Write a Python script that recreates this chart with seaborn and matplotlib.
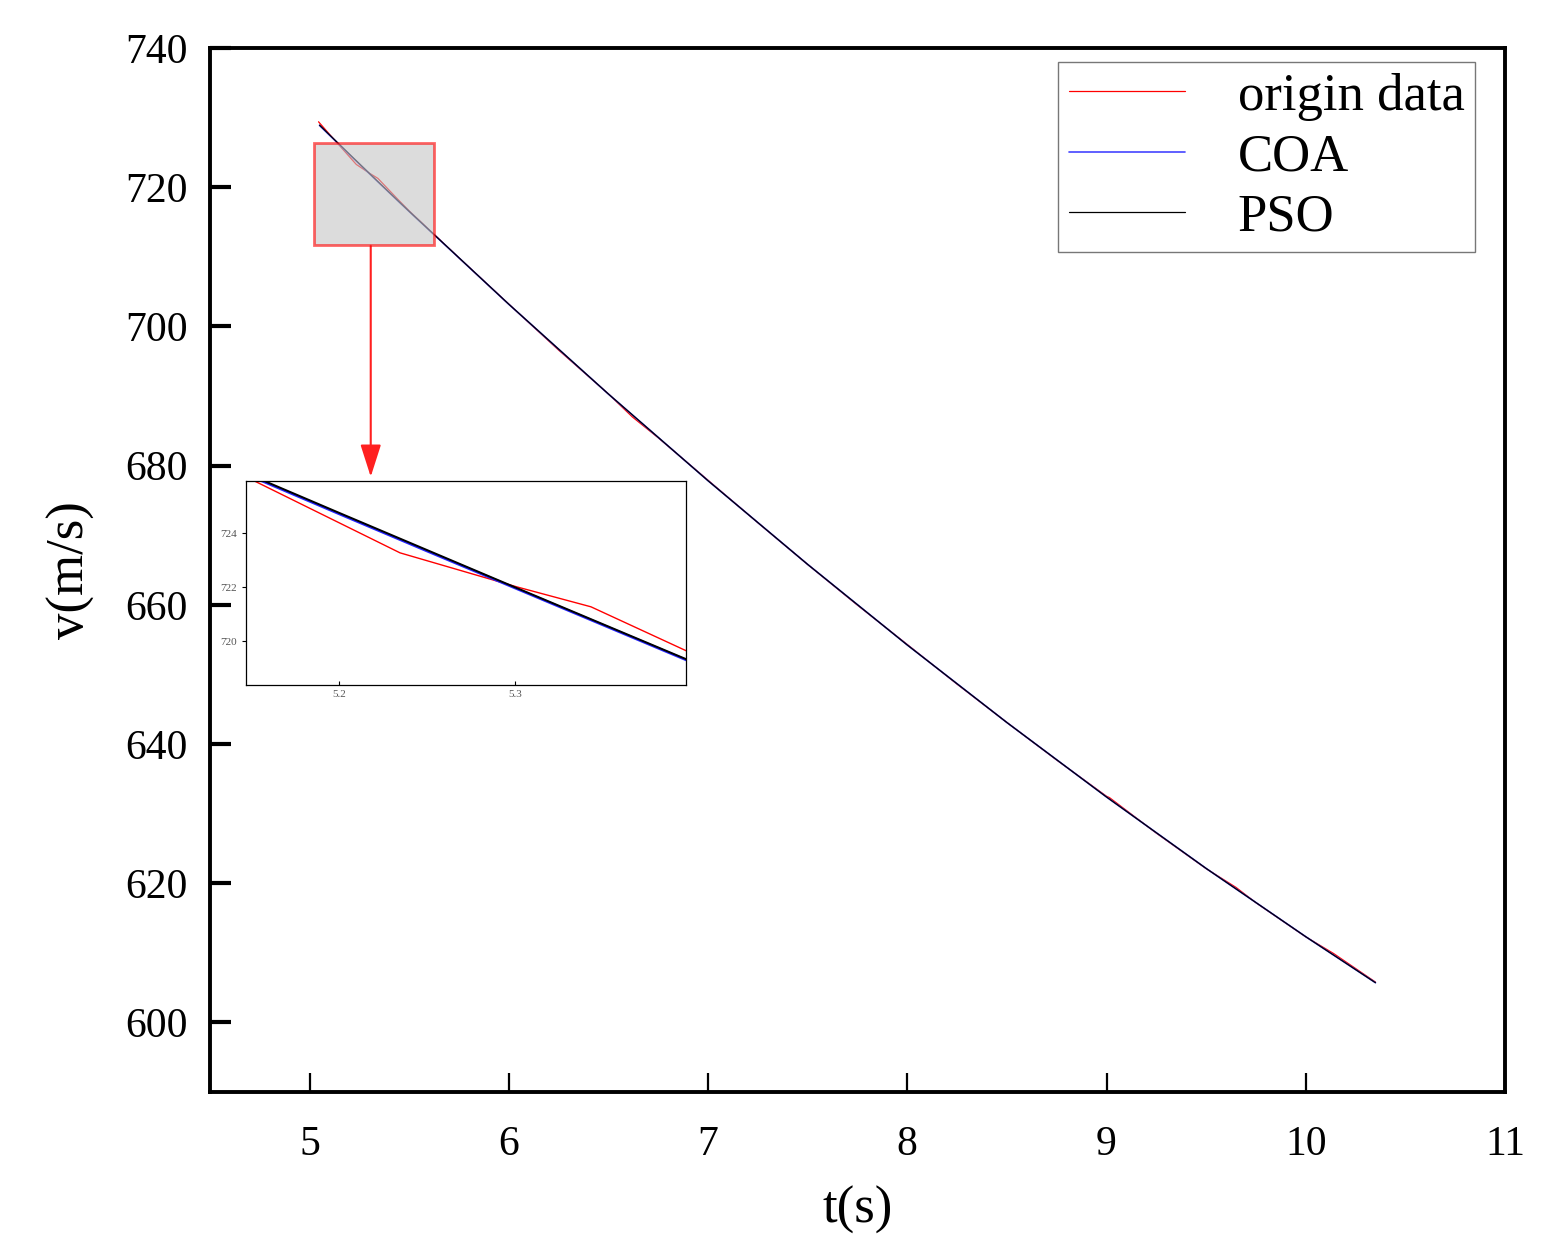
import numpy as np
import pandas as pd
import seaborn as sns
import matplotlib.pyplot as plt
from matplotlib.patches import Rectangle

t_origin = [5.045, 5.100, 5.2345, 5.3008, 5.343, 5.44, 5.5, 5.75, 6.0, 6.25, 6.5, 6.62, 6.75,
            7.0, 7.25, 7.5, 7.75, 8.0, 8.25, 8.5, 8.75, 9.0, 9.015, 9.25, 9.5, 9.65, 9.75,
            10.0, 10.14, 10.35]
v_origin = [729.40, 727.60, 723.27, 722.01, 721.27, 718.35, 716.60, 709.85, 703.20, 696.60,
            690.30, 687.00, 684.00, 677.90, 671.80, 665.80, 659.95, 654.30, 648.60, 643.10,
            637.70, 632.50, 632.30, 627.20, 622.10, 619.40, 617.20, 612.30, 609.90, 605.80]

# fitted curves
t_fit = [5.05, 5.10, 5.15, 5.20, 5.25, 5.30, 5.35, 5.40, 5.5, 6.0, 6.5, 7.0, 7.5, 8.0,
         8.5, 9.0, 9.5, 10.0, 10.35]
v_coa = [728.88, 727.48, 726.10, 724.71, 723.33, 721.96, 720.59, 719.22, 716.51, 703.18,
         690.28, 677.83, 665.81, 654.23, 643.09, 632.39, 622.13, 612.32, 605.71]
v_pso = [728.92, 727.52, 726.14, 724.75, 723.37, 721.99, 720.62, 719.25, 716.53, 703.19,
         690.29, 677.83, 665.81, 654.23, 643.09, 632.39, 622.13, 612.32, 605.71]

sns.set_style("ticks")
plt.rcParams['font.family'] = ['Liberation Serif', 'DejaVu Serif']
plt.rcParams['text.color'] = 'black'
plt.rcParams['axes.labelcolor'] = 'black'
plt.rcParams['xtick.color'] = 'black'
plt.rcParams['ytick.color'] = 'black'

fig = plt.figure(figsize=(15.68, 12.6), dpi=100)
ax = fig.add_axes([0.1339, 0.1333, 0.8259, 0.8286])

sns.lineplot(x=t_origin, y=v_origin, color='red', lw=0.9, ax=ax, label='origin data')
sns.lineplot(x=t_fit, y=v_coa, color='#4444ff', lw=1.2, ax=ax, label='COA')
sns.lineplot(x=t_fit, y=v_pso, color='black', lw=0.9, ax=ax, label='PSO')

ax.set_xlim(4.5, 11)
ax.set_ylim(590, 740)
ax.set_xticks(range(5, 12))
ax.set_yticks(range(600, 741, 20))
for s in ax.spines.values():
    s.set_linewidth(2.8)
    s.set_color('black')
ax.tick_params(axis='both', direction='in', labelsize=30)
ax.tick_params(axis='x', length=14, width=1.6, pad=24)
ax.tick_params(axis='y', length=15, width=3.0, pad=16)
ax.set_xlabel('t(s)', fontsize=38, labelpad=16)
ax.set_ylabel('v(m/s)', fontsize=38, labelpad=22)

leg = ax.legend(loc='upper right', bbox_to_anchor=(1475 / 1568, 1 - 62 / 1260),
                bbox_transform=fig.transFigure, borderaxespad=0, fontsize=38,
                frameon=True, fancybox=False, handlelength=2.2, handletextpad=1.0,
                labelspacing=0.24, borderpad=0.2)
leg.get_frame().set_edgecolor('#555555')
leg.get_frame().set_linewidth(1.0)

# zoom region marker
ax.add_patch(Rectangle((5.02, 711.7), 0.603, 14.7, facecolor='#c6c6c6', edgecolor='red',
                       alpha=0.6, lw=2, zorder=4))
ax.annotate('', xy=(5.307, 678.4), xytext=(5.307, 711.6),
            arrowprops=dict(arrowstyle='-|>,head_length=1.0,head_width=0.32',
                            color='#ff2020', lw=1.5, mutation_scale=20, shrinkA=0, shrinkB=0))

# inset
axin = fig.add_axes([0.1569, 0.4563, 0.2806, 0.1619])
sns.lineplot(x=t_origin, y=v_origin, color='red', lw=1.0, ax=axin, legend=False)
sns.lineplot(x=t_fit, y=v_coa, color='#2222ff', lw=1.8, ax=axin, legend=False)
sns.lineplot(x=t_fit, y=v_pso, color='black', lw=1.4, ax=axin, legend=False)
axin.set_xlim(5.147, 5.397)
axin.set_ylim(718.37, 725.93)
axin.set_xticks([5.2, 5.3])
axin.set_yticks([720, 722, 724])
axin.set_xlabel('')
axin.set_ylabel('')
for s in axin.spines.values():
    s.set_linewidth(0.9)
    s.set_color('black')
axin.tick_params(axis='both', labelsize=8, labelcolor='#555555', width=0.8, length=3)
axin.tick_params(axis='x', direction='in')
axin.tick_params(axis='y', direction='out')

fig.savefig('out.png', dpi=100)
